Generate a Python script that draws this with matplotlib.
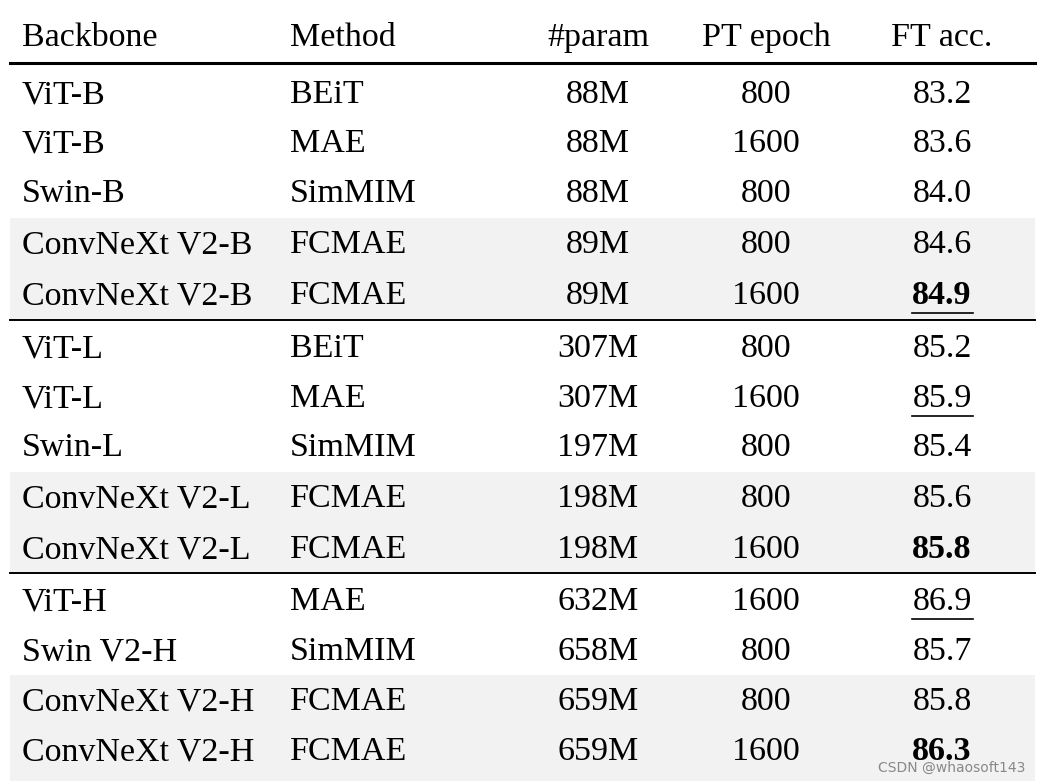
import matplotlib.pyplot as plt
from matplotlib.patches import Rectangle

headers = ["Backbone", "Method", "#param", "PT epoch", "FT acc."]
backbones = ["ViT-B", "ViT-B", "Swin-B", "ConvNeXt V2-B", "ConvNeXt V2-B",
             "ViT-L", "ViT-L", "Swin-L", "ConvNeXt V2-L", "ConvNeXt V2-L",
             "ViT-H", "Swin V2-H", "ConvNeXt V2-H", "ConvNeXt V2-H"]
methods = ["BEiT", "MAE", "SimMIM", "FCMAE", "FCMAE",
           "BEiT", "MAE", "SimMIM", "FCMAE", "FCMAE",
           "MAE", "SimMIM", "FCMAE", "FCMAE"]
params = ["88M", "88M", "88M", "89M", "89M",
          "307M", "307M", "197M", "198M", "198M",
          "632M", "658M", "659M", "659M"]
epochs = ["800", "1600", "800", "800", "1600",
          "800", "1600", "800", "800", "1600",
          "1600", "800", "800", "1600"]
accs = ["83.2", "83.6", "84.0", "84.6", "84.9",
        "85.2", "85.9", "85.4", "85.6", "85.8",
        "86.9", "85.7", "85.8", "86.3"]
bold_rows = [4, 9, 13]
underline_rows = [4, 6, 10]

W, H = 1039, 781
fig = plt.figure(figsize=(W / 100, H / 100), dpi=100)
ax = fig.add_axes([0, 0, 1, 1])
ax.set_xlim(0, W)
ax.set_ylim(H, 0)
ax.axis("off")

font = "Liberation Serif"
fs = 24.5
row_y = [95, 144, 194, 245, 296, 349, 399, 448, 499, 550, 602, 652, 702, 752]

# shaded FCMAE rows
for top, bot in [(218, 320), (472, 573), (675, 781)]:
    ax.add_patch(Rectangle((10, top), 1025, bot - top, color="#f2f2f2", lw=0))

ax.plot([10, 1035], [63, 63], color="black", lw=2.2)
for y in [320, 573]:
    ax.plot([10, 1035], [y, y], color="black", lw=1.4)

hy = 38
ax.text(22, hy, headers[0], ha="left", va="center", family=font, fontsize=fs)
ax.text(290, hy, headers[1], ha="left", va="center", family=font, fontsize=fs)
ax.text(598, hy, headers[2], ha="center", va="center", family=font, fontsize=fs)
ax.text(766, hy, headers[3], ha="center", va="center", family=font, fontsize=fs)
ax.text(942, hy, headers[4], ha="center", va="center", family=font, fontsize=fs)

for i, y in enumerate(row_y):
    ax.text(22, y, backbones[i], ha="left", va="center", family=font, fontsize=fs)
    ax.text(290, y, methods[i], ha="left", va="center", family=font, fontsize=fs)
    ax.text(598, y, params[i], ha="center", va="center", family=font, fontsize=fs)
    ax.text(766, y, epochs[i], ha="center", va="center", family=font, fontsize=fs)
    w = "bold" if i in bold_rows else "normal"
    ax.text(942, y, accs[i], ha="center", va="center", family=font, fontsize=fs,
            fontweight=w)
    if i in underline_rows:
        ax.plot([912, 973], [y + 17, y + 17], color="black", lw=1.2)

ax.text(1025, 768, "CSDN @whaosoft143", ha="right", va="center",
        family="DejaVu Sans", fontsize=10, color="#888888", zorder=5)

fig.savefig("out.png", dpi=100)
